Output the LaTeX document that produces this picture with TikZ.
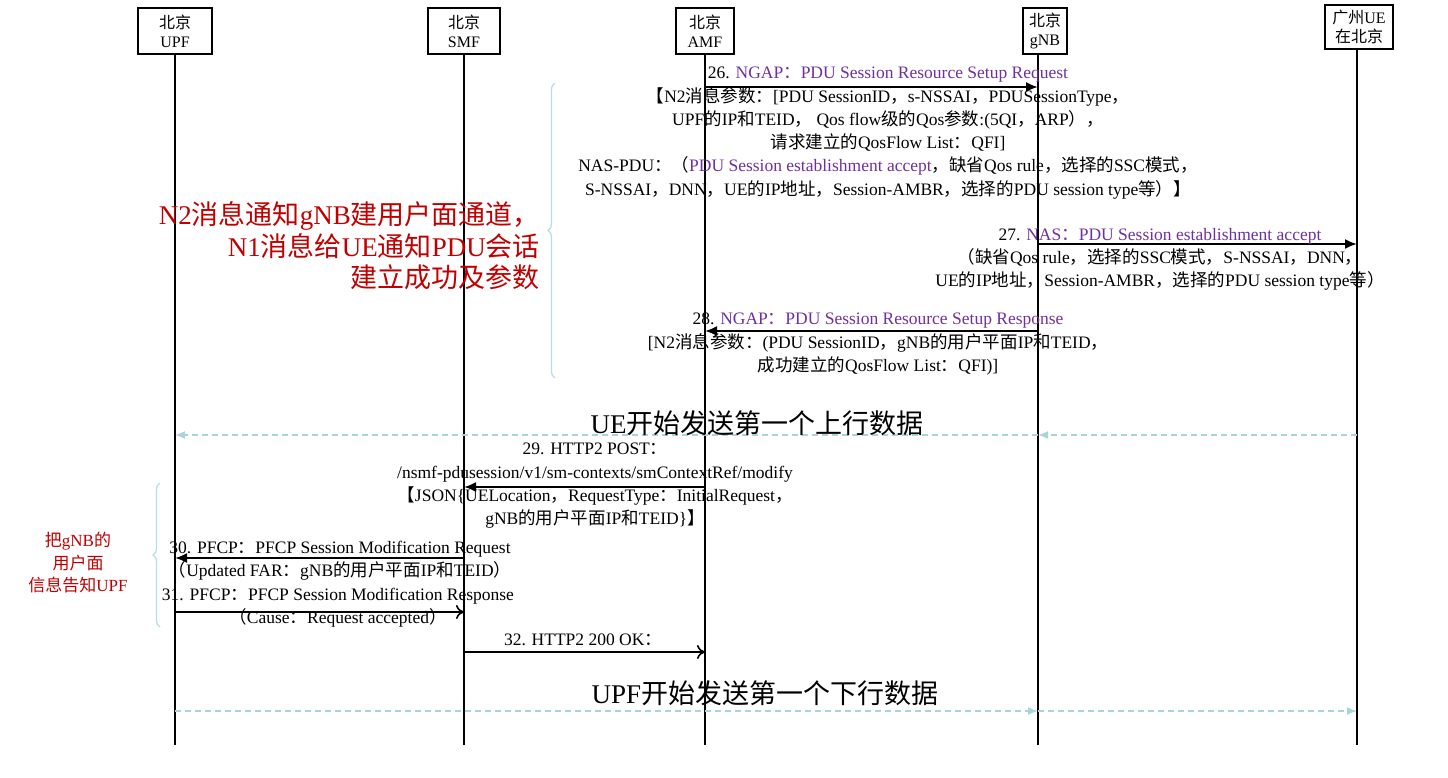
\documentclass[tikz,border=0pt]{standalone}
\usepackage{fontspec}
\setmainfont{Liberation Serif}
\newfontfamily\cjk{Noto Sans CJK SC}
\newcommand{\zh}[1]{{\cjk #1}}
\usetikzlibrary{positioning,decorations.pathreplacing,arrows.meta}
\definecolor{msgpurple}{RGB}{112,48,160}
\definecolor{notered}{RGB}{192,0,0}
\definecolor{flowblue}{RGB}{170,212,218}
\begin{document}
\begin{tikzpicture}[
   x=1pt, y=-1pt,
   ent/.style={
     draw, line width=1.6pt,
     fill=white,
     align=center,
     font=\fontsize{16}{19}\selectfont,
     inner sep=2pt,
     minimum height=46pt,
    },
   life/.style={line width=1.6pt},
   msg/.style={line width=2pt,-{Latex[length=12pt,width=10pt]}},
   omsg/.style={line width=1.6pt,-{To[length=8pt,width=14pt]}},
   flow/.style={line width=1.6pt,dash pattern=on 6pt off 4pt,flowblue,-{Latex[length=10pt,width=8pt]}},
   lbl/.style={
     align=center,
     inner sep=0pt,
     font=\fontsize{17.5}{23.3}\selectfont,
    },
   big/.style={
     inner sep=0pt,
     font=\fontsize{27}{31.5}\selectfont,
    },
   brc/.style={
     draw=flowblue!80, line width=1.3pt,
     decorate,
     decoration={brace,amplitude=7pt,mirror},
    },
  ]
\useasboundingbox (0,0) rectangle (1448,777);

% entities
\node[ent, minimum width=74pt] (upf) at (175,31) {\zh{北京}\\UPF};
\node[ent, minimum width=72pt] (smf) at (464,31) {\zh{北京}\\SMF};
\node[ent, minimum width=58pt] (amf) at (705,31) {\zh{北京}\\AMF};
\node[ent, minimum width=44pt] (gnb) at (1045,31) {\zh{北京}\\gNB};
\node[ent, minimum width=68pt, minimum height=44pt] (ue) at (1359,27) {\zh{广州}UE\\\zh{在北京}};

\coordinate (upfend) at (175,745);
\coordinate (smfend) at (464,745);
\coordinate (amfend) at (705,745);
\coordinate (gnbend) at (1038,745);
\coordinate (ueend) at (1357,745);
\draw[life] (upf) -- (upfend);
\draw[life] (smf) -- (smfend);
\draw[life] (amf) -- (amfend);
\draw[life] (gnb.south -| gnbend) -- (gnbend);
\draw[life] (ue.south -| ueend) -- (ueend);

% braces
\coordinate (b1t) at (555,83);
\coordinate (b1b) at (555,378);
\draw[brc] (b1t) -- (b1b);
\coordinate (b2t) at (160,483);
\coordinate (b2b) at (160,627);
\draw[brc] (b2t) -- (b2b);

\node[big, notered, align=right, anchor=east] (note1) at (540,246)
  {N2\zh{消息通知}gNB\zh{建用户面通道，}\\N1\zh{消息给}UE\zh{通知}PDU\zh{会话}\\\zh{建立成功及参数}};
\node[lbl, notered, font=\fontsize{17}{22.5}\selectfont] (note2) at (78,563)
  {\zh{把}gNB\zh{的}\\\zh{用户面}\\\zh{信息告知}UPF};

% 26
\coordinate (a26s) at (705,87);
\coordinate (a26e) at (1038,87);
\draw[msg] (a26s) -- (a26e);
\node[lbl, anchor=north] (t26) at (888,67)
  {26. \textcolor{msgpurple}{NGAP\zh{：}PDU Session Resource Setup Request}\\
   \zh{【}N2\zh{消息参数：}[PDU SessionID\zh{，}s-NSSAI\zh{，}PDUSessionType\zh{，}\\
   UPF\zh{的}IP\zh{和}TEID\zh{，} Qos flow\zh{级的}Qos\zh{参数}:(5QI\zh{，}ARP\zh{）}\zh{，}\\
   \zh{请求建立的}QosFlow List\zh{：}QFI]\\
   NAS-PDU\zh{：（}\textcolor{msgpurple}{PDU Session establishment accept}\zh{，缺省}Qos rule\zh{，选择的}SSC\zh{模式，}\\
   S-NSSAI\zh{，}DNN\zh{，}UE\zh{的}IP\zh{地址，}Session-AMBR\zh{，选择的}PDU session type\zh{等）】}};

% 27
\coordinate (a27s) at (1038,244);
\coordinate (a27e) at (1357,244);
\draw[msg] (a27s) -- (a27e);
\node[lbl, anchor=north] (t27) at (1160,228)
  {27. \textcolor{msgpurple}{NAS\zh{：}PDU Session establishment accept}\\
   \zh{（缺省}Qos rule\zh{，选择的}SSC\zh{模式，}S-NSSAI\zh{，}DNN\zh{，}\\
   UE\zh{的}IP\zh{地址，}Session-AMBR\zh{，选择的}PDU session type\zh{等）}};

% 28
\coordinate (a28s) at (1038,331);
\coordinate (a28e) at (705,331);
\draw[msg] (a28s) -- (a28e);
\node[lbl, anchor=north] (t28) at (878,313)
  {28. \textcolor{msgpurple}{NGAP\zh{：}PDU Session Resource Setup Response}\\
   {[}N2\zh{消息参数：}(PDU SessionID\zh{，}gNB\zh{的用户平面}IP\zh{和}TEID\zh{，}\\
   \zh{成功建立的}QosFlow List\zh{：}QFI)]};

% uplink data
\coordinate (ul1) at (1357,435);
\coordinate (ul2) at (1038,435);
\coordinate (ul3) at (175,435);
\draw[flow] (ul1) -- (ul2);
\draw[flow] (ul2) -- (ul3);
\node[big] (tul) at (757,423) {UE\zh{开始发送第一个上行数据}};

% 29
\coordinate (a29s) at (705,487);
\coordinate (a29e) at (464,487);
\draw[msg] (a29s) -- (a29e);
\node[lbl, anchor=north] (t29) at (595,443)
  {29. HTTP2 POST\zh{：}\\
   /nsmf-pdusession/v1/sm-contexts/smContextRef/modify\\
   \zh{【}JSON\{UELocation\zh{，}RequestType\zh{：}InitialRequest\zh{，}\\
   gNB\zh{的用户平面}IP\zh{和}TEID\}\zh{】}};

% 30
\coordinate (a30s) at (464,558);
\coordinate (a30e) at (175,558);
\draw[msg] (a30s) -- (a30e);
\node[lbl, anchor=north] (t30) at (340,541)
  {30. PFCP\zh{：}PFCP Session Modification Request\\
   \zh{（}Updated FAR\zh{：}gNB\zh{的用户平面}IP\zh{和}TEID\zh{）}};

% 31
\coordinate (a31s) at (175,612);
\coordinate (a31e) at (464,612);
\draw[omsg] (a31s) -- (a31e);
\node[lbl, anchor=north] (t31) at (338,588)
  {31. PFCP\zh{：}PFCP Session Modification Response\\
   \zh{（}Cause\zh{：}Request accepted\zh{）}};

% 32
\coordinate (a32s) at (464,652);
\coordinate (a32e) at (705,652);
\draw[omsg] (a32s) -- (a32e);
\node[lbl, anchor=north] (t32) at (583,634) {32. HTTP2 200 OK\zh{：}};

% downlink data
\coordinate (dl1) at (175,711);
\coordinate (dl2) at (1038,711);
\coordinate (dl3) at (1357,711);
\draw[flow] (dl1) -- (dl2);
\draw[flow] (dl2) -- (dl3);
\node[big] (tdl) at (765,693) {UPF\zh{开始发送第一个下行数据}};
\end{tikzpicture}
\end{document}
